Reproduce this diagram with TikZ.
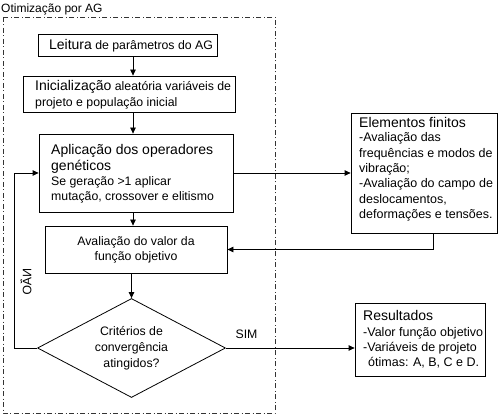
\documentclass[tikz,border=0pt]{standalone}
\usepackage{graphicx}
\usepackage{fontspec}
\setmainfont{Liberation Sans}
\usetikzlibrary{arrows.meta,shapes.geometric}
\newcommand{\fsz}[2]{\fontsize{#1}{#2}\selectfont}
\begin{document}
\begin{tikzpicture}[x=1pt,y=-1pt,
  box/.style={draw,line width=0.8pt,inner sep=0pt,anchor=center},
  txt/.style={inner sep=0pt,align=left,anchor=west},
  conn/.style={line width=0.8pt},
  arr/.style={conn,-{Triangle[length=6pt,width=5.5pt]}},
  frame/.style={draw=black!80,line width=0.8pt,dash pattern=on 5pt off 2.5pt on 1pt off 2.5pt},
  big/.style={font=\fsz{14}{16}},
  small/.style={font=\fsz{12.3}{15}}]
\useasboundingbox (0,0) rectangle (498,414);
\draw[frame] (3,17) rectangle (275,413);
\node[txt,font=\fsz{12}{14}] (title) at (1,9) {Otimização por AG};

\coordinate (ax) at (133,0);
\coordinate (efx) at (433,0);
\coordinate (lp) at (14,0);

% boxes
\node[box,minimum width=179pt,minimum height=22pt] (b1) at (127.5,45) {};
\node[inner sep=0pt,small] (t1) at (131,45.5) {{\fsz{14}{16}Leitura} de parâmetros do AG};

\node[box,minimum width=212pt,minimum height=36pt] (b2) at (129,94) {};
\node[txt,font=\fsz{12.3}{16}] (t2) at (35,95) {{\fsz{14}{16}Inicialização} aleatória variáveis de\\projeto e população inicial};

\node[box,minimum width=194pt,minimum height=78pt] (b3) at (136,173) {};
\node[txt,big] (t3a) at (51,158.5) {Aplicação dos operadores\\genéticos};
\node[txt,small] (t3b) at (51,189.5) {Se geração >1 aplicar\\mutação, crossover e elitismo};

\node[box,minimum width=182pt,minimum height=47pt,align=center,font=\fsz{12.3}{15}] (b4) at (136,249.5) {Avaliação do valor da\\função objetivo};

\node[box,shape=diamond,aspect=1.9,minimum width=188pt,minimum height=99pt,align=center,font=\fsz{12.3}{16}] (d) at (131.5,348) {Critérios de\\convergência\\atingidos?};

\node[box,minimum width=146pt,minimum height=120pt] (ef) at (424,173) {};
\node[txt,big] (tef1) at (359,122) {Elementos finitos};
\node[txt,font=\fsz{12.5}{15.3}] (tef2) at (359,177) {-Avaliação das\\frequências e modos de\\vibração;\\-Avaliação do campo de\\deslocamentos,\\deformações e tensões.};

\node[box,minimum width=130pt,minimum height=73pt] (res) at (420,339.5) {};
\node[txt,big] (tr1) at (363,315.5) {Resultados};
\node[txt,font=\fsz{12.5}{15}] (tr2) at (363,347.5) {-Valor função objetivo\\-Variáveis de projeto\\\hspace*{5pt}ótimas: A, B, C e D.};

% labels
\node[inner sep=0pt,small] (sim) at (246.5,334) {SIM};
\node[inner sep=0pt,small] (nao) at (26,282) {\rotatebox{-90}{\scalebox{1}[-1]{NÃO}}};

% connectors
\draw[arr] (b1.south -| ax) -- (b2.north -| ax);
\draw[arr] (b2.south -| ax) -- (b3.north -| ax);
\draw[arr] (b3.south -| ax) -- (b4.north -| ax);
\draw[arr] (b4.south -| d.north) -- (d.north);
\draw[arr] (b3.east) -- (ef.west);
\draw[arr] (ef.south -| efx) |- (b4.east);
\draw[arr] (d.west) -- (d.west -| lp) |- (b3.west);
\draw[arr] (d.east) -- (d.east -| res.west);
\end{tikzpicture}
\end{document}
